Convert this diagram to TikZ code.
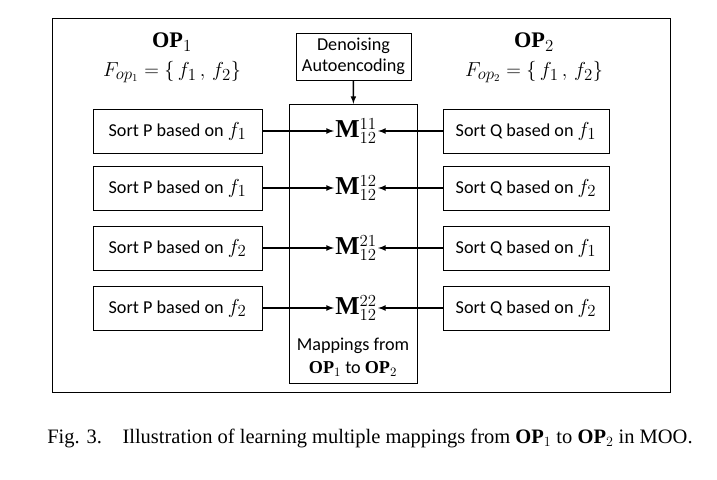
\documentclass[tikz,border=0pt]{standalone}
\usepackage{fontspec}
\setmainfont{Liberation Serif}
\newfontfamily\boxfont{Carlito}
\begin{document}
\begin{tikzpicture}[x=0.03cm,y=-0.03cm,
 bx/.style={draw,inner sep=0pt,font=\boxfont\fontsize{15.5}{18}\selectfont},
 ar/.style={-latex,line width=1.2pt}]
\useasboundingbox (0,0) rectangle (717,480);
\node[draw,thick,minimum width=618*0.03cm,minimum height=374*0.03cm,inner sep=0pt] (frame) at (361,205) {};
\node[bx,minimum width=128*0.03cm,minimum height=279*0.03cm] (mid) at (353,243.5) {};
\node[bx,minimum width=115*0.03cm,minimum height=47*0.03cm,align=center] (den) at (353.5,56.5) {Denoising\\Autoencoding};
\draw[ar] (den) -- (mid);
\node[font=\bfseries\fontsize{19}{22}\selectfont] (op1) at (172,42) {OP$_1$};
\node[font=\fontsize{19}{22}\selectfont] (f1) at (172,72) {$F_{op_1}=\{\,f_1\,,\,f_2\}$};
\node[font=\bfseries\fontsize{19}{22}\selectfont] (op2) at (534,42) {OP$_2$};
\node[font=\fontsize{19}{22}\selectfont] (f2) at (534,72) {$F_{op_2}=\{\,f_1\,,\,f_2\}$};
\foreach \i/\y/\a/\b/\m in {1/131/1/1/11,2/188/1/2/12,3/248/2/1/21,4/308/2/2/22}{
 \node[bx,minimum width=169*0.03cm,minimum height=44*0.03cm] (L\i) at (177.5,\y) {Sort P based on {\fontsize{19}{20}\selectfont$f_{\a}$}};
 \node[bx,minimum width=166*0.03cm,minimum height=44*0.03cm] (R\i) at (526,\y) {Sort Q based on {\fontsize{19}{20}\selectfont$f_{\b}$}};
 \node[font=\fontsize{22}{24}\selectfont,inner sep=1pt] (M\i) at (356,\y) {$\mathbf{M}_{12}^{\m}$};
 \draw[ar] (L\i) -- (M\i);
 \draw[ar] (R\i) -- (M\i);
}
\node[font=\boxfont\fontsize{15.5}{20}\selectfont,align=center] (lab) at (353,357) {Mappings from\\$\mathbf{OP}_1$ to $\mathbf{OP}_2$};
\node[font=\fontsize{17.5}{20}\selectfont] (cap) at (370,438) {Fig. 3.\quad Illustration of learning multiple mappings from $\mathbf{OP}_1$ to $\mathbf{OP}_2$ in MOO.};
\end{tikzpicture}
\end{document}
